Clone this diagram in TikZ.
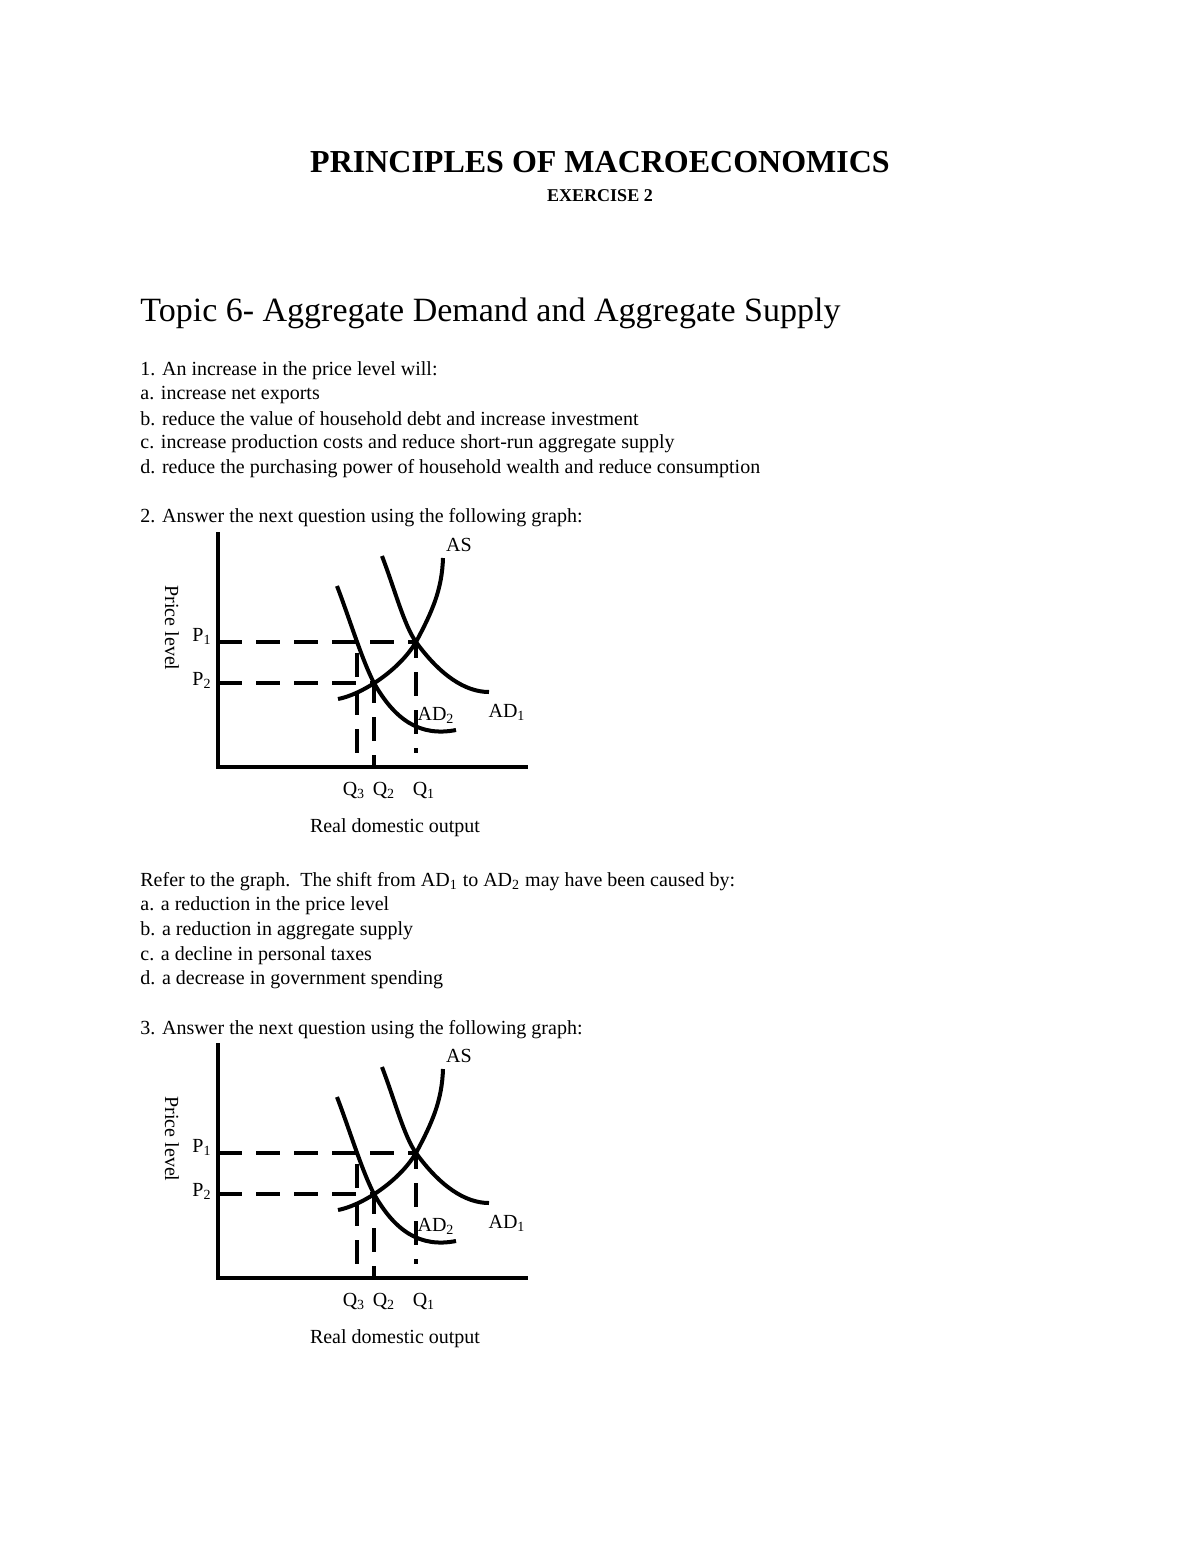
\documentclass[tikz,border=0pt]{standalone}
\usepackage{fontspec}
\setmainfont{Liberation Serif}
\usetikzlibrary{positioning}

\begin{document}
\begin{tikzpicture}[x=0.5pt,y=-0.5pt,
    txt/.style={anchor=west,inner sep=0pt,font=\fontsize{10}{12}\selectfont},
    lbl/.style={inner sep=0pt,font=\fontsize{10}{12}\selectfont},
    axis/.style={line width=2pt},
    curve/.style={line width=2pt},
    guide/.style={line width=2pt,dash pattern=on 12pt off 7pt}]
        \useasboundingbox[fill=white] (0,0) rectangle (1200,1553);

        % Heading
        \node[inner sep=0pt,font=\fontsize{16}{19}\selectfont\bfseries] (title) at (600,162) {PRINCIPLES OF MACROECONOMICS};
        \node[inner sep=0pt,font=\fontsize{9}{11}\selectfont\bfseries] (exer) at (600,196) {EXERCISE 2};
        \node[anchor=west,inner sep=0pt,font=\fontsize{17}{20}\selectfont] (topic) at (140,313) {Topic 6- Aggregate Demand and Aggregate Supply};

        % Question 1
        \node[txt] (q1) at (140,371) {1. An increase in the price level will:};
        \node[txt] (q1a) at (140,395) {a. increase net exports};
        \node[txt] (q1b) at (140,419) {b. reduce the value of household debt and increase investment};
        \node[txt] (q1c) at (140,444) {c. increase production costs and reduce short-run aggregate supply};
        \node[txt] (q1d) at (140,469) {d. reduce the purchasing power of household wealth and reduce consumption};

        % Question 2
        \node[txt] (q2) at (140,518) {2. Answer the next question using the following graph:};
        \node[txt] (q2r) at (140,882) {Refer to the graph.\ \ The shift from AD\textsubscript{1} to AD\textsubscript{2} may have been caused by:};
        \node[txt] (q2a) at (140,906) {a. a reduction in the price level};
        \node[txt] (q2b) at (140,931) {b. a reduction in aggregate supply};
        \node[txt] (q2c) at (140,956) {c. a decline in personal taxes};
        \node[txt] (q2d) at (140,980) {d. a decrease in government spending};

        % Question 3
        \node[txt] (q3) at (140,1030) {3. Answer the next question using the following graph:};

        % The two AD-AS graphs
        \foreach \dy/\g in {0/a,511/b} {
        \begin{scope}[yshift=-\dy*0.5pt]
            \coordinate (top\g) at (218,532);
            \coordinate (org\g) at (218,767);
            \coordinate (end\g) at (528,767);
            \coordinate (E1\g) at (416,642);
            \coordinate (E2\g) at (374,683);
            \coordinate (E3\g) at (357,642);
            \draw[axis] (top\g) -- (org\g) -- (end\g);
            % guide lines
            \draw[guide] (218,642) -- (E1\g) -- (416,753);
            \draw[guide] (218,683) -- (E2\g) -- (374,767);
            \draw[guide] (E3\g) ++(0,11) -- (357,767);
            % curves
            \draw[curve] (338,699) .. controls (360,695) and (398,672) .. (E1\g) .. controls (432,612) and (442,590) .. (443,558);
            \draw[curve] (382,556) .. controls (395,590) and (404,625) .. (E1\g) .. controls (440,675) and (465,692) .. (489,692);
            \draw[curve] (337,586) .. controls (350,620) and (362,660) .. (E2\g) .. controls (395,720) and (420,737) .. (456,730);
            % labels
            \node[lbl] (AS\g) at (459,545) {AS};
            \node[lbl] (AD1\g) at (507,712) {AD\textsubscript{1}};
            \node[lbl] (AD2\g) at (436,715) {AD\textsubscript{2}};
            \node[lbl] (P1\g) at (202,636) {P\textsubscript{1}};
            \node[lbl] (P2\g) at (202,680) {P\textsubscript{2}};
            \node[lbl] (Q3\g) at (354,790) {Q\textsubscript{3}};
            \node[lbl] (Q2\g) at (384,790) {Q\textsubscript{2}};
            \node[lbl] (Q1\g) at (424,790) {Q\textsubscript{1}};
            \node[lbl,rotate=-90] (ylab\g) at (172,628) {Price level};
            \node[lbl] (xlab\g) at (395,828) {Real domestic output};
        \end{scope}
        }
    \end{tikzpicture}
\end{document}
